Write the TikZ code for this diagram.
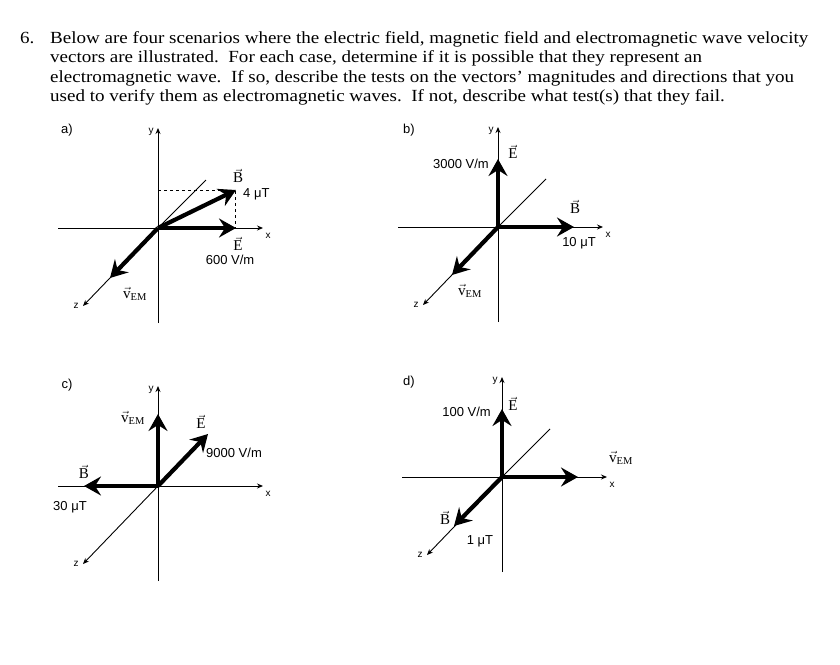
\documentclass[tikz,border=0pt]{standalone}
\usepackage{fontspec}
\setmainfont{Liberation Serif}
\setsansfont{Liberation Sans}
\newfontfamily\hdfont[FakeStretch=1.12]{Liberation Serif}
\usetikzlibrary{arrows.meta}
\tikzset{
 ax/.style={line width=0.9},
 axa/.style={line width=0.9,-{Stealth[length=6,width=5]}},
 vec/.style={line width=4.2,-{Stealth[length=17,width=19,inset=6]}},
 lab/.style={inner sep=0,font=\fontsize{15}{15}\selectfont},
 un/.style={inner sep=0,font=\sffamily\fontsize{13}{13}\selectfont},
 al/.style={inner sep=0,font=\sffamily\fontsize{10}{10}\selectfont},
 tx/.style={inner sep=0,anchor=base west,font=\hdfont\fontsize{17}{18}\selectfont}
}
\newcommand\myaxes[3]{% origin x, y, draw back diag
 \draw[axa] (#1-100,#2) -- (#1+105,#2);
 \draw[axa] (#1,#2+95) -- (#1,#2-100);
 \draw[axa] (#1,#2) -- (#1-75,#2+78);
 \ifnum#3=1 \draw[ax] (#1,#2) -- (#1+48,#2-48);\fi
 \node[al] at (#1-7,#2-96) {y};
 \node[al] at (#1+110,#2+8) {x};
 \node[al] at (#1-82,#2+78) {z};
}
\begin{document}
\begin{tikzpicture}[x=1pt,y=-1pt]
\useasboundingbox (0,0) rectangle (840,664);
\node[tx] (n6) at (20,43) {6.};
\node[tx] (l1) at (50,43) {Below are four scenarios where the electric field, magnetic field and electromagnetic wave velocity};
\node[tx] (l2) at (50,62) {vectors are illustrated.\ \ For each case, determine if it is possible that they represent an};
\node[tx] (l3) at (50,82) {electromagnetic wave.\ \ If so, describe the tests on the vectors’ magnitudes and directions that you};
\node[tx] (l4) at (50,101) {used to verify them as electromagnetic waves.\ \ If not, describe what test(s) that they fail.};
\node[un] (pa) at (67,130) {a)};
\node[un] (pb) at (409,130) {b)};
\node[un] (pc) at (67,385) {c)};
\node[un] (pd) at (409,382) {d)};
% a
\myaxes{158}{228}{1}
\draw[dashed,line width=0.8] (158,190) -- (235,190) -- (235,228);
\draw[vec] (158,228) -- (236,228);
\draw[vec] (158,228) -- (236,190);
\draw[vec] (158,228) -- (110,278);
\node[lab] at (238,176) {$\vec{\mathrm{B}}$};
\node[un,anchor=west] at (243,194) {4 μT};
\node[lab] at (238,244) {$\vec{\mathrm{E}}$};
\node[un] at (230,260) {600 V/m};
\node[lab] at (135,294) {$\vec{\mathrm{v}}_{\mathrm{EM}}$};
% b
\myaxes{498}{227}{1}
\draw[vec] (498,227) -- (498,159);
\draw[vec] (498,227) -- (574,227);
\draw[vec] (498,227) -- (452,275);
\node[lab] at (513,152) {$\vec{\mathrm{E}}$};
\node[un,anchor=east] at (489,164) {3000 V/m};
\node[lab] at (575,207) {$\vec{\mathrm{B}}$};
\node[un] at (579,243) {10 μT};
\node[lab] at (470,291) {$\vec{\mathrm{v}}_{\mathrm{EM}}$};
% c
\myaxes{158}{486}{0}
\draw[vec] (158,486) -- (158,414);
\draw[vec] (158,486) -- (208,434);
\draw[vec] (158,486) -- (84,486);
\node[lab] at (133,418) {$\vec{\mathrm{v}}_{\mathrm{EM}}$};
\node[lab] at (201,422) {$\vec{\mathrm{E}}$};
\node[un,anchor=west] at (206,453) {9000 V/m};
\node[lab] at (84,472) {$\vec{\mathrm{B}}$};
\node[un] at (70,507) {30 μT};
% d
\myaxes{502}{477}{1}
\draw[vec] (502,477) -- (502,409);
\draw[vec] (502,477) -- (578,477);
\draw[vec] (502,477) -- (454,526);
\node[lab] at (513,404) {$\vec{\mathrm{E}}$};
\node[un,anchor=east] at (491,412) {100 V/m};
\node[lab] at (621,458) {$\vec{\mathrm{v}}_{\mathrm{EM}}$};
\node[lab] at (445,518) {$\vec{\mathrm{B}}$};
\node[un] at (480,541) {1 μT};
\end{tikzpicture}
\end{document}
